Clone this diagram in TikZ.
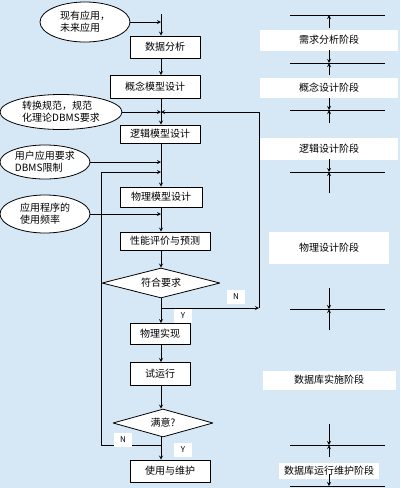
\documentclass[tikz,border=0pt]{standalone}
\usepackage{fontspec}
\setmainfont{Noto Sans CJK SC}
\usetikzlibrary{shapes.geometric}
\definecolor{sky}{RGB}{214,231,246}
\tikzset{
	box/.style={draw,fill=white,inner sep=1pt},
	source/.style={ellipse,draw,fill=white,inner sep=0pt,align=left},
	decision/.style={diamond,draw,fill=white,inner sep=0pt,aspect=4},
	yn/.style={fill=white,inner sep=1pt,minimum width=18,minimum height=14,font=\fontsize{8}{9}\selectfont},
	stage/.style={fill=white,inner sep=0pt}
}
\begin{document}
\begin{tikzpicture}[x=1pt,y=-1pt,>=stealth,font=\fontsize{10}{12}\selectfont,line width=0.8pt,line join=round]
	\fill[sky] (0,0) rectangle (400,488);
	\useasboundingbox (0,0) rectangle (400,488);
	\coordinate (spine) at (161,0);
	\coordinate (top) at (161,14);
	\node[source,minimum width=90,minimum height=40] (now) at (85,22) {现有应用，\\未来应用};
	\node[source,minimum width=122,minimum height=35] (rule) at (61,112) {转换规范，规范\\化理论DBMS要求};
	\node[source,minimum width=90,minimum height=34] (user) at (45,162) {用户应用要求\\DBMS限制};
	\node[source,minimum width=90,minimum height=38] (freq) at (45,214) {应用程序的\\使用频率};
	\foreach \n/\x/\y/\w/\h/\t in
	{ analysis/165/47/70/22/数据分析,
		concept/155/87/90/23/概念模型设计,
		logic/160/134/80/18/逻辑模型设计,
		phys/161/197/82/20/物理模型设计,
		perf/165/241/90/18/性能评价与预测,
		impl/160/334/60/21/物理实现,
		trial/160/374/60/23/试运行,
		maint/170/471/80/22/使用与维护
	}
	\node[box,minimum width=\w,minimum height=\h] (\n) at (\x,\y) {\t};
	\node[decision,minimum width=118,minimum height=30] (fit) at (161,283) {符合要求};
	\node[decision,minimum width=100,minimum height=28] (ok) at (163,423) {满意?};
	\draw[->] (now.east) -- (now.east -| spine);
	\draw[->] (top) -- (analysis.north -| spine);
	\foreach \a/\b in {analysis/concept,concept/logic,logic/phys,phys/perf,perf/fit,fit/impl,impl/trial,trial/ok,ok/maint}
	\draw[->] (\a.south -| spine) -- (\b.north -| spine);
	\foreach \e in {rule,user,freq}
	\draw[->] (\e.east) -- (\e.east -| spine);
	\coordinate (nTurn) at (259,308);
	\coordinate (nTop) at (rule.east -| nTurn);
	\draw[->] (fit.south |- nTurn) -- (nTurn);
	\draw[->] (nTurn) -- (nTop) -- (nTop -| spine);
	\coordinate (backL) at (101,445);
	\coordinate (backT) at (101,172);
	\draw[->] (spine |- backL) -- (backL) -- (backT) -- (spine |- backT);
	\node[yn] (fitN) at (236,297) {N};
	\node[yn] (fitY) at (183,316) {Y};
	\node[yn] (okN) at (123,440) {N};
	\node[yn] (okY) at (183,450) {Y};
	\foreach \n/\y/\w/\h/\t in
	{ need/40/138/21/需求分析阶段,
		idea/88/138/20/概念设计阶段,
		plan/149/138/22/逻辑设计阶段,
		store/248/120/32/物理设计阶段,
		build/380/133/19/数据库实施阶段,
		run/471/100/16/数据库运行维护阶段
	}
	\node[stage,minimum width=\w,minimum height=\h] (\n) at (329,\y) {\t};
	\foreach \y in {15,63,110,172,309,445,486}
	\draw (290,\y) -- (385,\y);
	\foreach \ya/\yb/\l in {15/63/13,63/110/12,110/172/13,172/309/21,309/445/21,445/486/12}
	{ \draw[->] (329,\ya+\l) -- (329,\ya);
		\draw[->] (329,\yb-\l) -- (329,\yb); }
\end{tikzpicture}
\end{document}
